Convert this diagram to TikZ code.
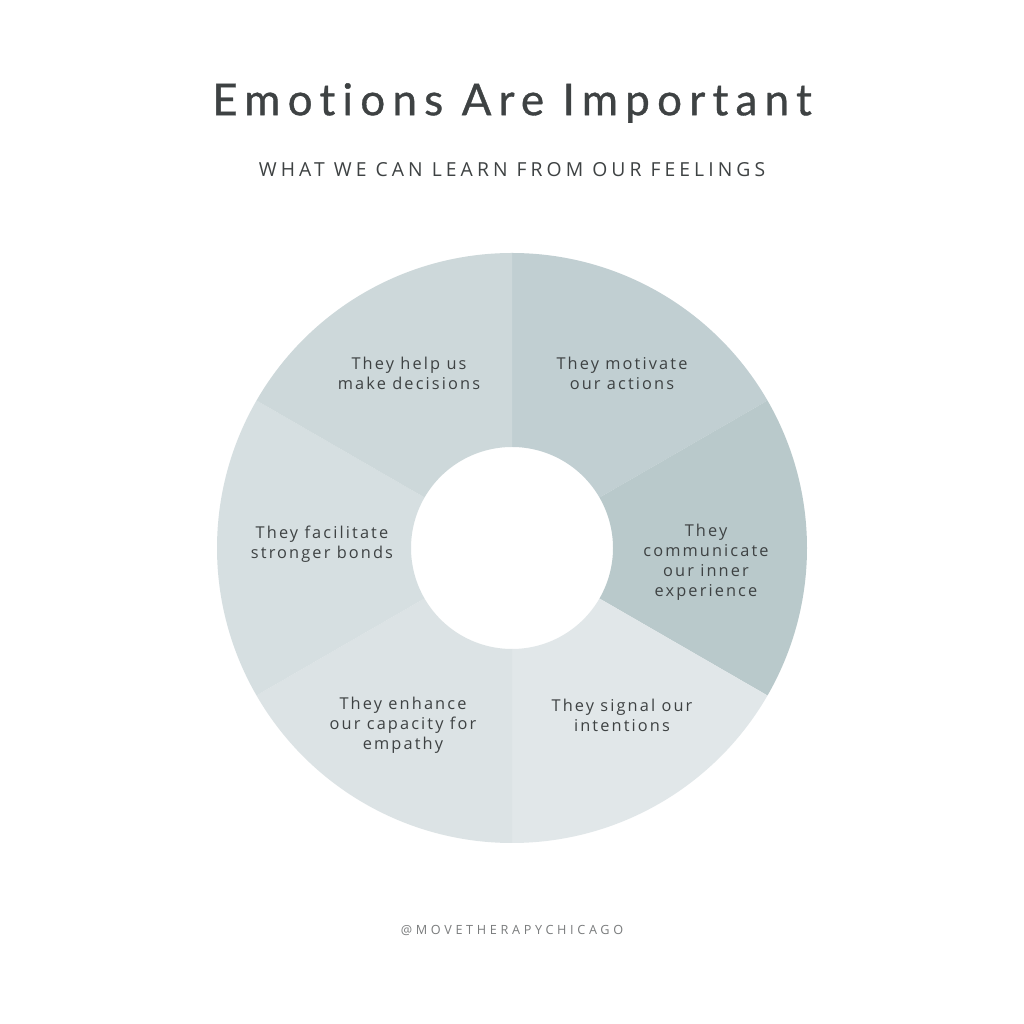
\documentclass[tikz,border=0pt]{standalone}
\usepackage{fontspec}
\setmainfont{Open Sans}
\newfontfamily\titlefont[LetterSpace=16.5, Ligatures=NoCommon, FakeBold=0.8]{Lato}
\newfontfamily\subfont[LetterSpace=21]{Open Sans}
\newfontfamily\labelfont[LetterSpace=13]{Open Sans}
\newfontfamily\tagfont[LetterSpace=29]{Open Sans}
\usepackage{tikz}
\usetikzlibrary{positioning, calc}
\definecolor{inktext}{HTML}{3E4243}
\definecolor{inkgray}{HTML}{7A7C7D}
\definecolor{segmotiv}{HTML}{C1CFD2}
\definecolor{segcomm}{HTML}{B9C9CB}
\definecolor{segsignal}{HTML}{E1E7E9}
\definecolor{segempathy}{HTML}{DCE3E5}
\definecolor{segbonds}{HTML}{D6DFE1}
\definecolor{segdecide}{HTML}{CDD8DA}
\tikzset{
    heading/.style={
        font=\titlefont\fontsize{25}{29}\selectfont, text=inktext
    },
    subheading/.style={
        font=\subfont\fontsize{11}{13}\selectfont, text=inktext
    },
    wedgelabel/.style={
        align=center, inner sep=0pt, text=inktext,
        font=\labelfont\fontsize{9.3}{11.4}\selectfont
    },
    handle/.style={
        font=\tagfont\fontsize{7.2}{9}\selectfont, text=inkgray
    }
}

\begin{document}
\begin{tikzpicture}[x=0.02cm, y=0.02cm]
        \useasboundingbox[fill=white] (0,0) rectangle (1024,1024);
        \coordinate (hub) at (512,476);
        %% donut wedges, 60 degrees each
        \foreach \a/\col in {30/segmotiv, -30/segcomm, -90/segsignal, -150/segempathy, 150/segbonds, 90/segdecide}{
            \fill[\col] ($(hub)+(\a:101)$) -- ($(hub)+(\a:295)$)
                arc[start angle=\a, end angle=\a+60, radius=295]
                -- ($(hub)+(\a+60:101)$)
                arc[start angle=\a+60, end angle=\a, radius=101] -- cycle;
        }
        \node [heading] (title) at (512,921) {Emotions Are Important};
        \node [subheading] (subtitle) at (512,854) {WHAT WE CAN LEARN FROM OUR FEELINGS};
        \node [wedgelabel] (motivate) at (622,651) {They motivate\\our actions};
        \node [wedgelabel] (communicate) at (706,462) {They\\communicate\\our inner\\experience};
        \node [wedgelabel] (signal) at (622,309) {They signal our\\intentions};
        \node [wedgelabel] (empathy) at (403,299) {They enhance\\our capacity for\\empathy};
        \node [wedgelabel] (bonds) at (322,480) {They facilitate\\stronger bonds};
        \node [wedgelabel] (decide) at (409,651) {They help us\\make decisions};
        \node [handle] (tag) at (512,94) {@MOVETHERAPYCHICAGO};
\end{tikzpicture}
\end{document}
